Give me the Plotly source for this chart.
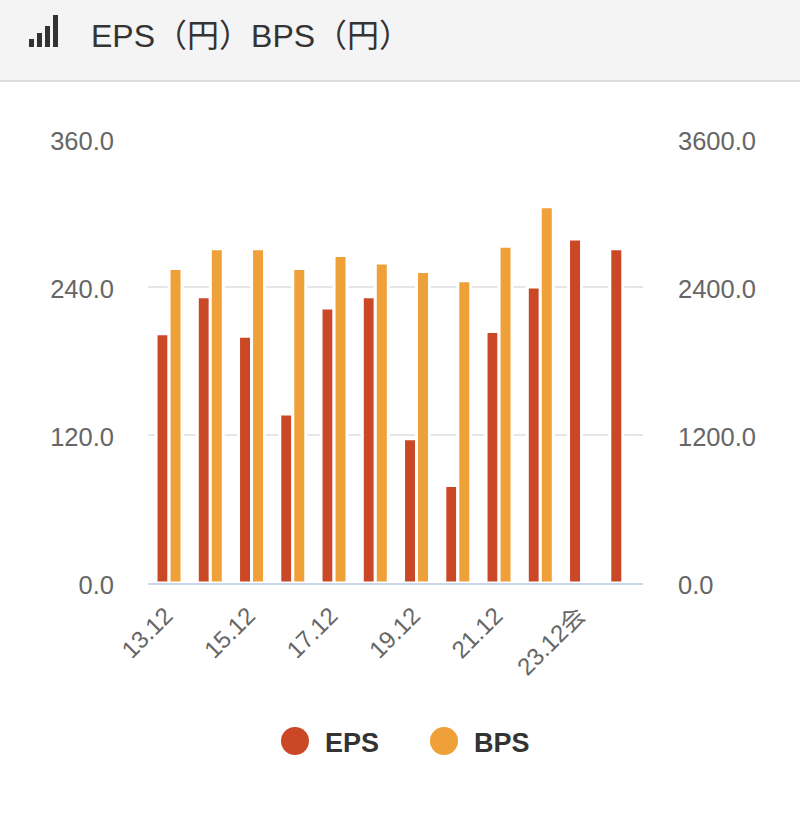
import plotly.graph_objects as go

W = 800
H = 824
L, R, T, B = 148, 643, 139, 583

categories = ['13.12', '14.12', '15.12', '16.12', '17.12', '18.12', '19.12', '20.12',
              '21.12', '22.12', '23.12会', '24.12会']
shown_labels = ['13.12', '15.12', '17.12', '19.12', '21.12', '23.12会']
eps = [202, 232, 200, 137, 223, 232, 117, 79, 204, 240, 279, 271]
bps = [2550, 2710, 2710, 2550, 2655, 2595, 2525, 2450, 2730, 3050, None, None]
y_ticks = [0, 120, 240, 360]
y2_ticks = [0, 1200, 2400, 3600]

RED = '#cb4827'
ORANGE = '#f0a038'
FONT = 'Liberation Sans, Arial, Noto Sans CJK JP'


def px(x):
    return (x - L) / (R - L)


def py(y):
    return (B - y) / (B - T)


def rect(x0, y0, x1, y1, color, kind='rect'):
    return dict(type=kind, xref='paper', yref='paper', x0=px(x0), x1=px(x1), y0=py(y0), y1=py(y1),
                fillcolor=color, line=dict(width=0), layer='above')


def label(x, y, text, size, color, anchor='left', bold=False):
    return dict(xref='paper', yref='paper', x=px(x), y=py(y), text='<b>%s</b>' % text if bold else text,
                showarrow=False, xanchor=anchor, yanchor='middle',
                font=dict(family=FONT, size=size, color=color))


fig = go.Figure()
fig.add_trace(go.Bar(x=categories, y=eps, name='EPS', marker=dict(color=RED, line=dict(color='white', width=3)),
                     width=0.315, offset=-0.305))
fig.add_trace(go.Bar(x=categories, y=bps, name='BPS', marker=dict(color=ORANGE, line=dict(color='white', width=3)),
                     width=0.315, offset=0.01, yaxis='y2'))

shapes = [
    rect(0, 0, W, 80, '#f4f4f4'),
    rect(0, 80, W, 82, '#dcdcdc'),
    # signal icon in the header
    rect(29, 39, 34, 47, '#333333'),
    rect(37, 33, 42, 47, '#333333'),
    rect(45, 26, 50, 47, '#333333'),
    rect(53, 15, 58, 47, '#333333'),
    # legend dots
    rect(281, 727, 309, 755, RED, 'circle'),
    rect(430, 727, 458, 755, ORANGE, 'circle'),
]

annotations = [
    label(89, 36, 'EPS（円）BPS（円）', 32, '#333333'),
    label(323, 743, 'EPS', 27, '#333333', bold=True),
    label(472, 743, 'BPS', 27, '#333333', bold=True),
]

fig.update_layout(
    width=W,
    height=H,
    margin=dict(l=L, r=W - R, t=T, b=H - B),
    paper_bgcolor='white',
    plot_bgcolor='white',
    showlegend=False,
    font=dict(family=FONT, color='#666666'),
    shapes=shapes,
    annotations=annotations,
    xaxis=dict(
        type='category',
        categoryorder='array',
        categoryarray=categories,
        tickmode='array',
        tickvals=shown_labels,
        ticktext=shown_labels,
        tickangle=-45,
        tickfont=dict(size=24, color='#666666'),
        ticks='',
        showgrid=False,
        showline=True,
        linecolor='#ccd6eb',
        linewidth=2,
        range=[-0.5, 11.5],
        ticklabelstandoff=7,
        ticklabelshift=-3,
    ),
    yaxis=dict(
        range=[0, 360],
        tickvals=y_ticks,
        tickformat='.1f',
        tickfont=dict(size=25.5, color='#666666'),
        gridcolor='#e6e6e6',
        gridwidth=2,
        zeroline=False,
        ticks='',
        ticklabelstandoff=33,
        ticklabelshift=2,
    ),
    yaxis2=dict(
        range=[0, 3600],
        tickvals=y2_ticks,
        tickformat='.1f',
        tickfont=dict(size=25.5, color='#666666'),
        overlaying='y',
        side='right',
        showgrid=False,
        zeroline=False,
        ticks='',
        ticklabelstandoff=34,
        ticklabelshift=2,
    ),
)

# drop the browser's default page margin so the header reaches the window edge
fig.write_html("out.html", config={'displayModeBar': False},
               post_script="document.body.style.margin='0';")
